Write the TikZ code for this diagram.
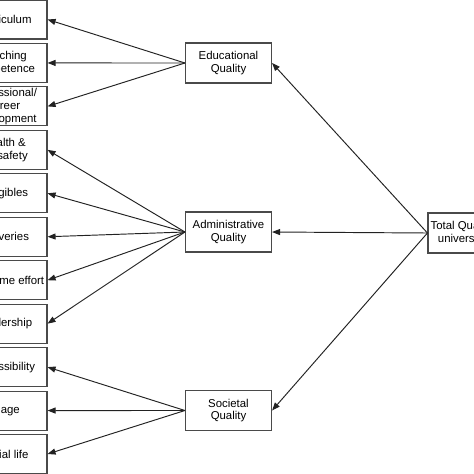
\documentclass[tikz,border=0pt]{standalone}
\usepackage{fontspec}
\setmainfont{Liberation Sans}
\usetikzlibrary{arrows.meta}
\definecolor{boxgray}{HTML}{4A4A4A}
\definecolor{linegray}{HTML}{222222}
\begin{document}
\begin{tikzpicture}[x=1pt,y=-1pt,
  box/.style={draw=boxgray, line width=1.1pt, minimum width=86pt, minimum height=39pt,
    inner sep=0pt, align=center, font=\fontsize{11.4}{12.7}\selectfont, text=black},
  arr/.style={draw=linegray, line width=0.95pt, -{Triangle[length=8pt,width=6pt]}}]
\useasboundingbox (0,0) rectangle (474,474);
\clip (0,0) rectangle (474,474);
\fill[white] (0,0) rectangle (474,474);
% left boxes
\node[box] (c1)  at (4,19.5)   {Curriculum};
\node[box] (c2)  at (4,62.95)  {Teaching\\competence};
\node[box] (c3)  at (4,106.4)  {Professional/\\career\\development};
\node[box] (c4)  at (4,149.85) {Health \&\\\hspace*{17pt}safety};
\node[box] (c5)  at (4,193.3)  {Tangibles};
\node[box] (c6)  at (4,236.75) {Deliveries};
\node[box] (c7)  at (4,280.2)  {Extra time effort};
\node[box] (c8)  at (4,323.65) {Leadership};
\node[box] (c9)  at (4,367.1)  {Accessibility};
\node[box] (c10) at (4,410.55) {Image};
\node[box] (c11) at (4,454)    {Social life};
% middle boxes
\node[box, minimum height=40pt] (edu) at (228.5,63)    {Educational\\Quality};
\node[box, minimum height=40pt] (adm) at (228.5,232)   {Administrative\\Quality};
\node[box, minimum height=40pt] (soc) at (228.5,410.5) {Societal\\Quality};
% total
\node[box, minimum height=40pt, minimum width=68pt] (tot) at (462,233) {Total Quality\\university};
% arrows
\draw[arr] (tot.west) -- (edu.east);
\draw[arr] (tot.west) -- (adm.east);
\draw[arr] (tot.west) -- (soc.east);
\foreach \i in {c1,c2,c3} \draw[arr] (edu.west) -- (\i.east);
\foreach \i in {c4,c5,c6,c7,c8} \draw[arr] (adm.west) -- (\i.east);
\foreach \i in {c9,c10,c11} \draw[arr] (soc.west) -- (\i.east);
\end{tikzpicture}
\end{document}
